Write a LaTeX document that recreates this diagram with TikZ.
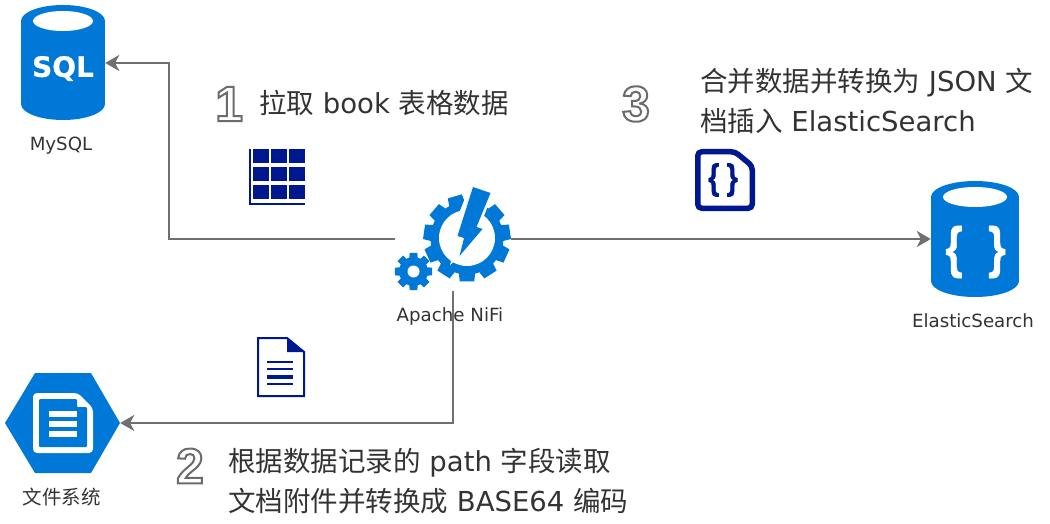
\documentclass[tikz,border=0pt]{standalone}
\usepackage{fontspec}
\usetikzlibrary{arrows.meta, positioning, calc}
\setmainfont{DejaVu Sans}
\newfontfamily\cjk{Noto Sans CJK SC}
\newfontfamily\sqlfont[FakeBold=0.8]{DejaVu Sans Bold}
\newfontfamily\bracefont[FakeBold=1]{Liberation Sans Bold}
\newfontfamily\numfont[FakeBold=4]{Liberation Sans Bold}
\definecolor{azureblue}{RGB}{0,120,215}
\definecolor{navyblue}{RGB}{0,24,143}
\definecolor{flowgray}{RGB}{112,112,112}
\definecolor{textgray}{RGB}{51,51,51}
% white glyph with grey rim
\newcommand{\rimdigit}[1]{\numfont\special{pdf:code 1 1 1 rg 0.42 0.42 0.42 RG}#1}
% body of a database icon, drawn round (0,0)
\newcommand{\dbbody}[2]{%
    \fill[azureblue] (0,-#2+16) ellipse [x radius=#1, y radius=16];
    \fill[azureblue] (0,#2-16) ellipse [x radius=#1, y radius=16];
    \fill[azureblue] (-#1,-#2+16) rectangle (#1,#2-16);
    \fill[white] (0,-#2+16) ellipse [x radius=#1-12, y radius=10];
}
% gear: centre, teeth, root radius, tip radius, half tooth angle, phase
\newcommand{\gearicon}[6]{%
    \fill[azureblue] (#1) ++(#6-1.35*#5:#3)
        \foreach \k in {1,...,#2} {
            -- ($(#1)+(#6+\k*360/#2-360/#2-1.35*#5:#3)$)
            -- ($(#1)+(#6+\k*360/#2-360/#2-#5:#4)$)
            -- ($(#1)+(#6+\k*360/#2-360/#2+#5:#4)$)
            -- ($(#1)+(#6+\k*360/#2-360/#2+1.35*#5:#3)$)
        } -- cycle;
}

\begin{document}
\begin{tikzpicture}[
    x=1pt, y=-1pt,
    flow/.style={draw=flowgray, line width=2pt, -{Stealth[length=14pt,width=16pt,inset=4pt]}},
    iconbox/.style={inner sep=0pt, minimum width=#1},
    label/.style={font=\fontsize{18.2}{22}\selectfont, text=textgray, inner sep=0pt},
    note/.style={font=\fontsize{27.5}{40}\selectfont, text=textgray, align=left, anchor=west, inner sep=0pt},
    num/.style={font=\fontsize{50}{50}\selectfont, inner sep=0pt}
]
    \useasboundingbox (0,0) rectangle (1050,524);

    % MySQL
    \begin{scope}[shift={(63,62.5)}]
        \dbbody{42}{57.5}
        \node[font=\sqlfont\fontsize{28}{28}\selectfont, text=white, inner sep=0pt] (sqltext) at (0,6) {SQL};
    \end{scope}
    \node[iconbox=84, minimum height=115] (mysql) at (63,63) {};
    \node[label] (mysqllabel) at (61,146) {MySQL};

    % ElasticSearch
    \begin{scope}[shift={(975,239)}]
        \dbbody{44}{58}
        \node[font=\bracefont\fontsize{56}{56}\selectfont, text=white, inner sep=0pt] (esbraces) at (0.5,13) {\scalebox{0.8}[1]{\{\hspace{32pt}\}}};
    \end{scope}
    \node[iconbox=88, minimum height=116] (es) at (975,239) {};
    \node[label] (eslabel) at (973,321) {ElasticSearch};

    % File system
    \fill[azureblue] (5,423) -- (35,373) -- (91,373) -- (120,423) -- (91,473) -- (35,473) -- cycle;
    \fill[white, rounded corners=4pt] (33,393) -- (78,393) -- (93,408) -- (93,453) -- (33,453) -- cycle;
    \fill[azureblue, rounded corners=1pt] (39,399) -- (77,399) -- (77,407) -- (87,407) -- (87,447) -- (39,447) -- cycle;
    \foreach \y in {411,421,431}
        \fill[white] (49,\y) rectangle (77,\y+6);
    \node[iconbox=115, minimum height=100] (files) at (62.5,423) {};
    \node[label, font=\cjk\fontsize{19.5}{22}\selectfont] (fileslabel) at (62,497) {文件系统};

    % NiFi gears
    \gearicon{467,238}{11}{36.5}{44}{9.5}{90}
    \fill[white] (467,238) circle (28);
    \fill[white] (472,181) -- (495,188) -- (480,226) -- (490,232) -- (450,265) -- (456,241) -- (449,238) -- cycle;
    \fill[azureblue] (473,187) -- (490.5,193) -- (476.5,227) -- (482.5,229) -- (459.5,256) -- (464,238) -- (457.5,236) -- cycle;
    \gearicon{413.5,271.5}{8}{14.5}{19}{12}{0}
    \fill[white] (413.5,271.5) circle (6);
    \node[iconbox=116, minimum height=104] (nifi) at (453,239) {};
    \node[label] (nifilabel) at (450,316) {Apache NiFi};

    % Connectors
    \coordinate (bendsql) at (169,239);
    \draw[flow] (nifi.west) -- (bendsql) |- (mysql.east);
    \draw[flow] (nifi.east) -- (es.west);
    \draw[flow] (nifi.south) |- (files.east);

    % Table icon
    \fill[navyblue] (249,149) rectangle (251,205);
    \fill[navyblue] (249,203) rectangle (305,205);
    \foreach \x in {253,271,289}
        \foreach \y in {149,167,185}
            \fill[navyblue] (\x,\y) rectangle (\x+16,\y+14);

    % Document icon
    \draw[navyblue, line width=2pt, fill=white] (258,338) -- (287,338) -- (304,352) -- (304,396) -- (258,396) -- cycle;
    \fill[navyblue] (287,337) -- (305,352) -- (287,352) -- cycle;
    \fill[navyblue] (267,361) rectangle (293,363);
    \fill[navyblue] (267,368) rectangle (293,370);
    \fill[navyblue] (267,375) rectangle (293,379);
    \fill[navyblue] (267,383) rectangle (293,385);

    % Json icon
    \draw[navyblue, line width=5.5pt, rounded corners=4pt] (697.75,151.75) -- (735,151.75) -- (752.25,166) -- (752.25,208.25) -- (697.75,208.25) -- cycle;
    \node[font=\bracefont\fontsize{36}{36}\selectfont, text=navyblue, inner sep=0pt] (jsonbraces) at (723,180) {\scalebox{0.8}[1]{\{\hspace{9pt}\}}};

    % Numbers
    \node[num] (numone) at (229,104) {\rimdigit{1}};
    \node[num] (numtwo) at (190,466) {\rimdigit{2}};
    \node[num] (numthree) at (636,104) {\rimdigit{3}};

    % Notes
    \node[note] (noteone) at (259,103) {{\cjk 拉取} book {\cjk 表格数据}};
    \node[note] (notetwo) at (228,481) {{\cjk 根据数据记录的} path {\cjk 字段读取}\\{\cjk 文档附件并转换成} BASE64 {\cjk 编码}};
    \node[note] (notethree) at (700,101) {{\cjk 合并数据并转换为} JSON {\cjk 文}\\{\cjk 档插入} ElasticSearch};
\end{tikzpicture}
\end{document}
